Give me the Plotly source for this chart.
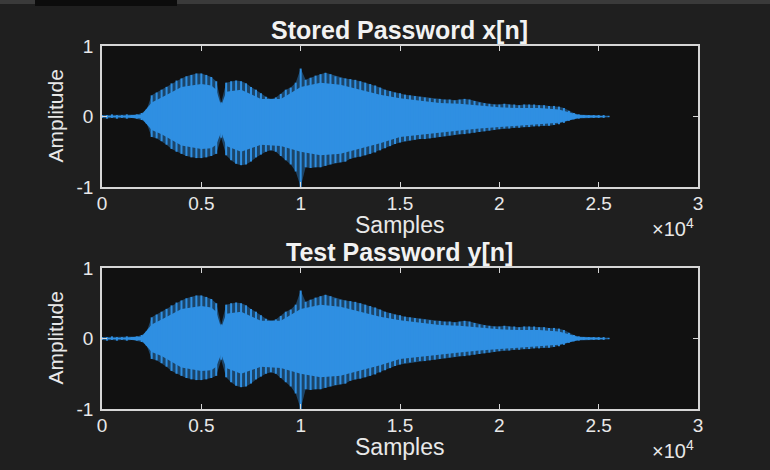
import plotly.graph_objects as go

W, H = 770, 470

# Outer envelope of the waveform (every 250 samples)
samples = list(range(0, 25501, 250))

stored_upper = [
    0.02, 0.02, 0.03, 0.02, 0.02, 0.03, 0.02, 0.03, 0.05, 0.10,
    0.30, 0.34, 0.38, 0.42, 0.47, 0.51, 0.54, 0.57, 0.59, 0.61,
    0.61, 0.59, 0.56, 0.50, 0.20, 0.48, 0.50, 0.51, 0.50, 0.47,
    0.42, 0.38, 0.33, 0.28, 0.25, 0.27, 0.32, 0.38, 0.41, 0.48,
    0.68, 0.52, 0.55, 0.58, 0.60, 0.62, 0.60, 0.57, 0.55, 0.54,
    0.53, 0.52, 0.50, 0.48, 0.46, 0.44, 0.41, 0.38, 0.36, 0.34,
    0.33, 0.31, 0.30, 0.29, 0.28, 0.27, 0.26, 0.25, 0.25, 0.24,
    0.24, 0.23, 0.24, 0.25, 0.24, 0.22, 0.20, 0.19, 0.18, 0.17,
    0.17, 0.18, 0.17, 0.17, 0.16, 0.17, 0.17, 0.17, 0.16, 0.16,
    0.15, 0.15, 0.14, 0.12, 0.08, 0.05, 0.03, 0.02, 0.02, 0.02,
    0.02, 0.02, 0.01,
]
stored_lower = [
    -0.02, -0.03, -0.02, -0.03, -0.02, -0.03, -0.02, -0.03, -0.05, -0.10,
    -0.29, -0.31, -0.35, -0.40, -0.46, -0.50, -0.53, -0.56, -0.58, -0.59,
    -0.59, -0.58, -0.56, -0.53, -0.30, -0.55, -0.62, -0.67, -0.69, -0.68,
    -0.64, -0.58, -0.54, -0.50, -0.48, -0.50, -0.56, -0.62, -0.68, -0.78,
    -1.00, -0.72, -0.73, -0.72, -0.72, -0.70, -0.68, -0.66, -0.65, -0.64,
    -0.60, -0.58, -0.57, -0.55, -0.53, -0.51, -0.48, -0.45, -0.42, -0.39,
    -0.37, -0.35, -0.34, -0.33, -0.32, -0.32, -0.31, -0.30, -0.29, -0.28,
    -0.27, -0.26, -0.25, -0.25, -0.24, -0.23, -0.22, -0.21, -0.20, -0.19,
    -0.18, -0.17, -0.17, -0.16, -0.16, -0.15, -0.15, -0.14, -0.14, -0.13,
    -0.13, -0.12, -0.11, -0.09, -0.06, -0.04, -0.03, -0.02, -0.02, -0.02,
    -0.02, -0.02, -0.01,
]

# Solid (dense) core of the waveform
core_samples = [0, 1000, 2000, 2500, 3000, 4000, 5000, 5500, 5750, 6000, 6250, 7000,
                8000, 9000, 10000, 11000, 12000, 13000, 14000, 15000, 16000, 17000,
                18000, 19000, 20000, 21000, 22000, 23000, 24000, 25000, 25500]
stored_core_upper = [0.01, 0.01, 0.03, 0.20, 0.27, 0.42, 0.46, 0.44, 0.38, 0.15, 0.35, 0.38,
                     0.25, 0.25, 0.42, 0.48, 0.45, 0.38, 0.31, 0.26, 0.22, 0.19,
                     0.18, 0.15, 0.13, 0.12, 0.12, 0.10, 0.02, 0.01, 0.005]
stored_core_lower = [-0.01, -0.01, -0.03, -0.19, -0.25, -0.41, -0.46, -0.45, -0.40, -0.22, -0.42, -0.50,
                     -0.40, -0.42, -0.50, -0.55, -0.53, -0.45, -0.38, -0.29, -0.26, -0.23,
                     -0.20, -0.17, -0.14, -0.13, -0.11, -0.09, -0.02, -0.01, -0.005]

# The test password looks identical to the stored one
test_upper = list(stored_upper)
test_lower = list(stored_lower)
test_core_upper = list(stored_core_upper)
test_core_lower = list(stored_core_lower)

x_tickvals = [0, 5000, 10000, 15000, 20000, 25000, 30000]
x_ticktext = ["0", "0.5", "1", "1.5", "2", "2.5", "3"]
y_tickvals = [-1, 0, 1]
y_ticktext = ["-1", "0", "1"]

titles = ["Stored Password x[n]", "Test Password y[n]"]

BLUE = "#2f8fe2"
HALO = "rgba(47,143,226,0.42)"
FG = "#e8e8e8"
AX = "#d6d6d6"
FONT = "Liberation Sans, Arial, sans-serif"


def px(x, y):
    return x / W, 1 - y / H


fig = go.Figure()


def add_wave(upper, lower, cu, cl, xa, ya):
    # faint envelope between the spikes
    fig.add_trace(go.Scatter(
        x=samples + samples[::-1], y=upper + lower[::-1],
        fill="toself", fillcolor=HALO, line=dict(width=0),
        mode="lines", hoverinfo="skip", showlegend=False, xaxis=xa, yaxis=ya))
    # dense solid core
    fig.add_trace(go.Scatter(
        x=core_samples + core_samples[::-1], y=cu + cl[::-1],
        fill="toself", fillcolor=BLUE, line=dict(width=0),
        mode="lines", hoverinfo="skip", showlegend=False, xaxis=xa, yaxis=ya))
    # individual oscillation spikes reaching the envelope
    zx, zy = [], []
    for s, u, l in zip(samples, upper, lower):
        zx += [s, s, None]
        zy += [u, l, None]
    fig.add_trace(go.Scatter(
        x=zx, y=zy, mode="lines", line=dict(color=BLUE, width=2.0),
        connectgaps=False, hoverinfo="skip", showlegend=False, xaxis=xa, yaxis=ya))


add_wave(stored_upper, stored_lower, stored_core_upper, stored_core_lower, "x", "y")
add_wave(test_upper, test_lower, test_core_upper, test_core_lower, "x2", "y2")

# panel boxes in pixels: left, right, top, bottom
panels = [(102, 698, 46, 187), (102, 698, 268, 409)]

common_x = dict(
    range=[0, 30000], tickvals=x_tickvals, ticktext=x_ticktext,
    ticks="inside", ticklen=5, tickwidth=1, tickcolor=AX,
    showline=True, linecolor=AX, linewidth=1.6, mirror="ticks",
    showgrid=False, zeroline=False, fixedrange=True, automargin=False,
    tickfont=dict(family=FONT, size=19, color=FG), ticklabelstandoff=-2,
)
common_y = dict(
    range=[-1, 1], tickvals=y_tickvals, ticktext=y_ticktext,
    ticks="inside", ticklen=5, tickwidth=1, tickcolor=AX,
    showline=True, linecolor=AX, linewidth=1.6, mirror="ticks",
    showgrid=False, zeroline=False, fixedrange=True, automargin=False,
    tickfont=dict(family=FONT, size=19, color=FG), ticklabelstandoff=3,
)

layout = dict(
    width=W, height=H, autosize=False,
    margin=dict(l=0, r=0, t=0, b=0, pad=0, autoexpand=False),
    paper_bgcolor="#1f1f1f", plot_bgcolor="#111111",
    showlegend=False,
)
annotations = []
for i, (l, r, t, b) in enumerate(panels):
    sfx = "" if i == 0 else str(i + 1)
    layout["xaxis" + sfx] = dict(common_x, domain=[l / W, r / W], anchor="y" + sfx)
    layout["yaxis" + sfx] = dict(common_y, domain=[1 - b / H, 1 - t / H], anchor="x" + sfx)
    cx = (l + r) / 2
    ax_, ay_ = px(cx, t - 16)
    annotations.append(dict(text="<b>" + titles[i] + "</b>", x=ax_, y=ay_, xref="paper", yref="paper",
                            xanchor="center", yanchor="middle", showarrow=False,
                            font=dict(family=FONT, size=25, color="#f2f2f2")))
    ax_, ay_ = px(cx, b + 38)
    annotations.append(dict(text="Samples", x=ax_, y=ay_, xref="paper", yref="paper",
                            xanchor="center", yanchor="middle", showarrow=False,
                            font=dict(family=FONT, size=23, color=FG)))
    ax_, ay_ = px(r - 25, b + 40)
    annotations.append(dict(text="×10<sup>4</sup>", x=ax_, y=ay_, xref="paper", yref="paper",
                            xanchor="center", yanchor="middle", showarrow=False,
                            font=dict(family=FONT, size=20, color=FG)))
    ax_, ay_ = px(l - 47, (t + b) / 2)
    annotations.append(dict(text="Amplitude", x=ax_, y=ay_, xref="paper", yref="paper",
                            xanchor="center", yanchor="middle", showarrow=False, textangle=-90,
                            font=dict(family=FONT, size=21, color=FG)))
layout["annotations"] = annotations

# screenshot edge artefacts at the top
layout["shapes"] = [
    dict(type="rect", xref="paper", yref="paper", x0=0, x1=1, y0=1 - 4 / H, y1=1,
         fillcolor="#3a3a3a", line=dict(width=0), layer="below"),
    dict(type="rect", xref="paper", yref="paper", x0=35 / W, x1=177 / W, y0=1 - 6 / H, y1=1,
         fillcolor="#0c0c0c", line=dict(width=0), layer="below"),
]

fig.update_layout(**layout)
fig.write_html("out.html")
